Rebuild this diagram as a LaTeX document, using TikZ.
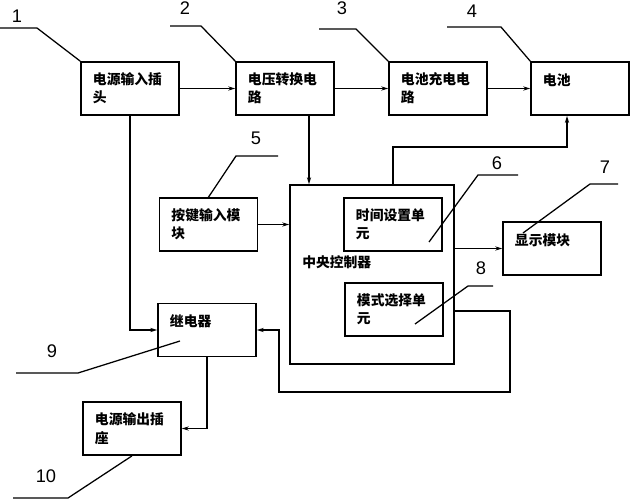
\documentclass[tikz,border=0pt]{standalone}
\usepackage{fontspec}
\usetikzlibrary{arrows.meta}
\newfontfamily\cjk{Noto Sans CJK SC}
\newfontfamily\numfont{Liberation Sans}

\tikzset{
	blk/.style={draw, line width=1.1pt, minimum width=2.45cm, minimum height=1.33cm,
		text width=1.85cm, inner xsep=0.3cm, align=left,
		font=\cjk\bfseries\fontsize{9.8}{13}\selectfont},
	arr/.style={line width=0.9pt, -{Stealth[length=5pt,width=3pt]}},
	lead/.style={line width=0.9pt},
	num/.style={font=\numfont\fontsize{13}{15}\selectfont, inner sep=0pt}
}

\begin{document}
\begin{tikzpicture}[x=0.025cm, y=-0.025cm]
\useasboundingbox (0,0) rectangle (630,500);
%blocks
\node[blk] (b1) at (130,88.5) {电源输入插\\头};
\node[blk] (b2) at (285,88.5) {电压转换电\\路};
\node[blk] (b3) at (438,88.5) {电池充电电\\路};
\node[blk] (b4) at (580,88.5) {电池\\\mbox{}};
\node[blk] (key) at (208.5,224.5) {按键输入模\\块};
\node[draw, line width=1.1pt, minimum width=4.1cm, minimum height=4.475cm] (ctrl) at (372,274.5) {};
\node[inner sep=0pt, anchor=west, font=\cjk\bfseries\fontsize{9.8}{13}\selectfont] (ctrllab) at (302,262) {中央控制器};
\node[blk] (time) at (393,224.5) {时间设置单\\元};
\node[blk] (mode) at (394,309.5) {模式选择单\\元};
\node[blk] (disp) at (552,248.5) {显示模块\\\mbox{}};
\node[blk] (relay) at (207,330) {继电器\\\mbox{}};
\node[blk] (sock) at (132,428.5) {电源输出插\\座};
%connectors
\draw[arr] (b1) -- (b2);
\draw[arr] (b2) -- (b3);
\draw[arr] (b3) -- (b4);
\draw[arr] (b1.south) |- (relay.west);
\draw[arr] (b2.south -| 309,0) -- (ctrl.north -| 309,0);
\draw[arr] (ctrl.north -| 393,0) |- (567,147) -- (b4.south -| 567,0);
\draw[arr] (key.east) -- (key.east -| ctrl.west);
\draw[arr] (disp.west -| ctrl.east) -- (disp.west);
\draw[arr] (ctrl.east |- 0,311) -- (510,311) |- (279,392) |- (relay.east);
\draw[arr] (relay.south) |- (sock.east);
%leaders
\node[num] (n1) at (17,16) {1};
\draw[lead] (0,28) -- (37,28) -- (b1.north west);
\node[num] (n2) at (185,8) {2};
\draw[lead] (170,26) -- (201,26) -- (b2.north west);
\node[num] (n3) at (342,8) {3};
\draw[lead] (319,29) -- (356,29) -- (b3.north west);
\node[num] (n4) at (472,11) {4};
\draw[lead] (447,27) -- (501,27) -- (b4.north west);
\node[num] (n5) at (256,138) {5};
\draw[lead] (278,156) -- (236,156) -- (key.north);
\node[num] (n6) at (497,163) {6};
\draw[lead] (518,175) -- (478,175) -- (429,242);
\node[num] (n7) at (605,167) {7};
\draw[lead] (618,184) -- (590,184) -- (523,233);
\node[num] (n8) at (481,268) {8};
\draw[lead] (493,286) -- (468,286) -- (415,324);
\node[num] (n9) at (52,351) {9};
\draw[lead] (16,373) -- (78,373) -- (180,341);
\node[num] (n10) at (46,476) {10};
\draw[lead] (13,498) -- (68,498) -- (sock.south);
\end{tikzpicture}
\end{document}
